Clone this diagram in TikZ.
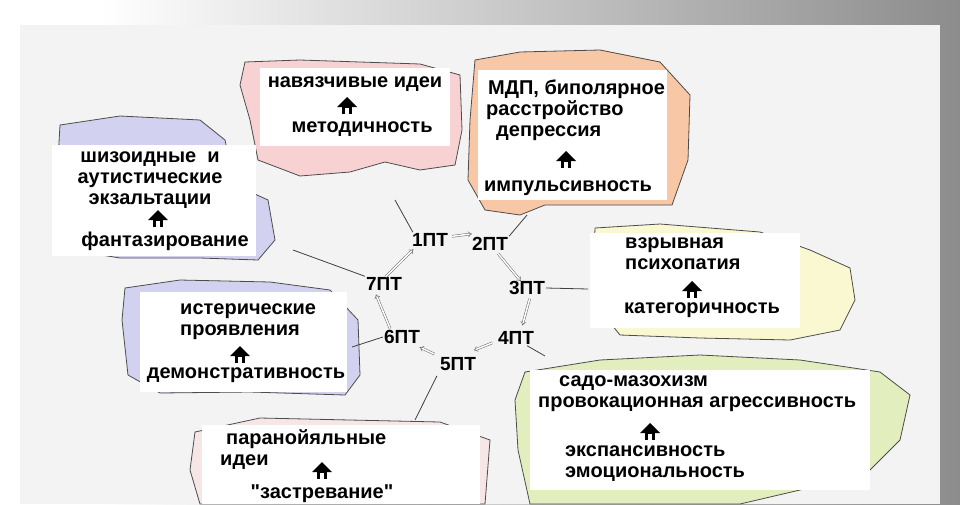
\documentclass[tikz,border=0pt]{standalone}
\usepackage{fontspec}
\setmainfont{Liberation Sans}
\usetikzlibrary{arrows.meta,calc}
\definecolor{panel}{HTML}{F3F3F3}
\definecolor{pk}{HTML}{F8D2D2}
\definecolor{orng}{HTML}{F8C8A6}
\definecolor{lav}{HTML}{D2D2F0}
\definecolor{yel}{HTML}{FAF8D0}
\definecolor{grn}{HTML}{E2EEBE}
\definecolor{pk2}{HTML}{F6E6E6}
\tikzset{
  blob/.style={draw=black!70, line width=0.8pt},
  txt/.style={font=\bfseries\fontsize{20}{21}\selectfont, align=center, inner sep=0pt},
  lbl/.style={font=\bfseries\fontsize{19}{20}\selectfont, inner sep=1pt},
  link/.style={draw=black!75, line width=0.8pt},
  ring/.style={draw=black!60, double=white, double distance=1.5pt, line width=0.5pt, -{Implies}, shorten >=5pt, shorten <=5pt}
}
\newcommand{\uparr}[1]{\fill ($(#1)+(-10,1)$) -- ($(#1)+(10,1)$) -- ($(#1)+(0,-9)$) -- cycle;
  \fill ($(#1)+(-5,0)$) rectangle ($(#1)+(5,8)$);
  \fill[white] ($(#1)+(-2,2)$) rectangle ($(#1)+(2,8)$);}
\begin{document}
\begin{tikzpicture}[x=1pt,y=-1pt]
\useasboundingbox (0,0) rectangle (960,504);
\fill[white] (0,0) rectangle (960,504);
\shade[left color=white, right color=black!45] (100,0) rectangle (960,504);
\fill[panel] (20,25) rectangle (940,504);
% blobs
\draw[blob, fill=pk] (245,62) -- (300,60) -- (420,64) -- (460,75) -- (462,130) -- (455,165) -- (420,170) -- (385,162) -- (350,172) -- (300,176) -- (258,160) -- (250,120) -- (240,85) -- cycle;
\draw[blob, fill=orng] (475,60) -- (520,52) -- (600,50) -- (660,62) -- (690,95) -- (688,160) -- (672,205) -- (600,205) -- (545,205) -- (520,215) -- (485,210) -- (468,180) -- (470,120) -- cycle;
\draw[blob, fill=lav] (60,125) -- (120,116) -- (200,120) -- (225,140) -- (235,185) -- (268,200) -- (275,240) -- (258,260) -- (200,258) -- (120,258) -- (70,250) -- (55,200) -- (58,160) -- cycle;
\draw[blob, fill=yel] (595,228) -- (660,224) -- (760,232) -- (810,250) -- (850,268) -- (855,300) -- (840,330) -- (790,340) -- (700,338) -- (620,335) -- (592,300) -- cycle;
\draw[blob, fill=lav] (125,288) -- (180,280) -- (270,282) -- (330,290) -- (358,320) -- (360,375) -- (345,395) -- (250,392) -- (160,393) -- (128,375) -- (122,320) -- cycle;
\draw[blob, fill=grn] (525,372) -- (600,360) -- (700,355) -- (800,360) -- (880,372) -- (910,395) -- (900,440) -- (870,470) -- (800,490) -- (740,504) -- (530,504) -- (518,450) -- (515,400) -- cycle;
\draw[blob, fill=pk2] (195,432) -- (260,418) -- (350,420) -- (440,422) -- (490,440) -- (485,504) -- (200,504) -- (190,470) -- cycle;
% white boxes
\fill[white] (260,68) rectangle (450,146);
\fill[white] (478,70) rectangle (667,200);
\fill[white] (52,145) rectangle (256,256);
\fill[white] (590,233) rectangle (800,328);
\fill[white] (140,292) rectangle (347,392);
\fill[white] (530,370) rectangle (870,490);
\fill[white] (202,425) rectangle (480,504);
% texts
\node[txt] (t1) at (355,84) {навязчивые идеи};
\node[txt] (t1b) at (362,129) {методичность};
\node[txt, align=left, anchor=north west] (t2) at (488,80) {МДП, биполярное\\\hspace*{-2pt}расстройство\\\hspace*{8pt}депрессия};
\node[txt] (t2b) at (568,188) {импульсивность};
\node[txt, anchor=north] (t3) at (150,152) {шизоидные \ и\\аутистические\\экзальтации};
\node[txt] (t3b) at (165,241) {фантазирование};
\node[txt, align=left, anchor=north west] (t4) at (625,238) {взрывная\\психопатия};
\node[txt] (t4b) at (702,310) {категоричность};
\node[txt, align=left, anchor=north west] (t5) at (180,304) {истерические\\проявления};
\node[txt] (t5b) at (246,375) {демонстративность};
\node[txt, align=left, anchor=north west] (t6) at (538,376) {\hspace*{21pt}садо-мазохизм\\провокационная агрессивность};
\node[txt, align=left, anchor=north west] (t6b) at (565,446) {экспансивность\\эмоциональность};
\node[txt, align=left, anchor=north west] (t7) at (226,429) {паранойяльные\\\hspace*{-6pt}идеи};
\node[txt] (t7b) at (322,494) {\textquotedbl застревание\textquotedbl};
% up arrows
\uparr{347,106}
\uparr{566,160}
\uparr{158,219}
\uparr{692,290}
\uparr{240,355}
\uparr{650,432}
\uparr{322,471}
% ring
\node[lbl] (p1) at (430,240) {1ПТ};
\node[lbl] (p2) at (490,244) {2ПТ};
\node[lbl] (p3) at (527,288) {3ПТ};
\node[lbl] (p4) at (516,338) {4ПТ};
\node[lbl] (p5) at (458,364) {5ПТ};
\node[lbl] (p6) at (402,337) {6ПТ};
\node[lbl] (p7) at (384,284) {7ПТ};
\draw[ring] ($(p1.east)+(-2,-3)$) -- ($(p2.north west)+(6,-3)$);
\draw[ring] ($(p2.south)+(5,-2)$) -- ($(p3.north)+(-3,5)$);
\draw[ring] ($(p3.south)+(4,-2)$) -- ($(p4.north)+(5,0)$);
\draw[ring] ($(p4.west)+(0,3)$) -- ($(p5.north east)+(-8,-4)$);
\draw[ring] ($(p5.north west)+(0,0)$) -- ($(p6.east)+(-6,8)$);
\draw[ring] ($(p6.north)+(-10,4)$) -- ($(p7.south)+(-10,-2)$);
\draw[ring] ($(p7.north)+(-2,4)$) -- ($(p1.south west)+(6,-2)$);
% links
\coordinate (c1) at (395,200);
\coordinate (c2) at (527,215);
\coordinate (c3) at (588,289);
\coordinate (c4) at (545,356);
\coordinate (c5) at (415,420);
\coordinate (c6) at (352,347);
\coordinate (c7) at (293,250);
\draw[link] ($(p1.north west)+(2,0)$) -- (c1);
\draw[link] (p2.north east) -- (c2);
\draw[link] (p3.east) -- (c3);
\draw[link] ($(p4.south east)+(-8,0)$) -- (c4);
\draw[link] ($(p5.south west)+(-2,4)$) -- (c5);
\draw[link] (p6.west) -- (c6);
\draw[link] (p7.north west) -- (c7);
\end{tikzpicture}
\end{document}
